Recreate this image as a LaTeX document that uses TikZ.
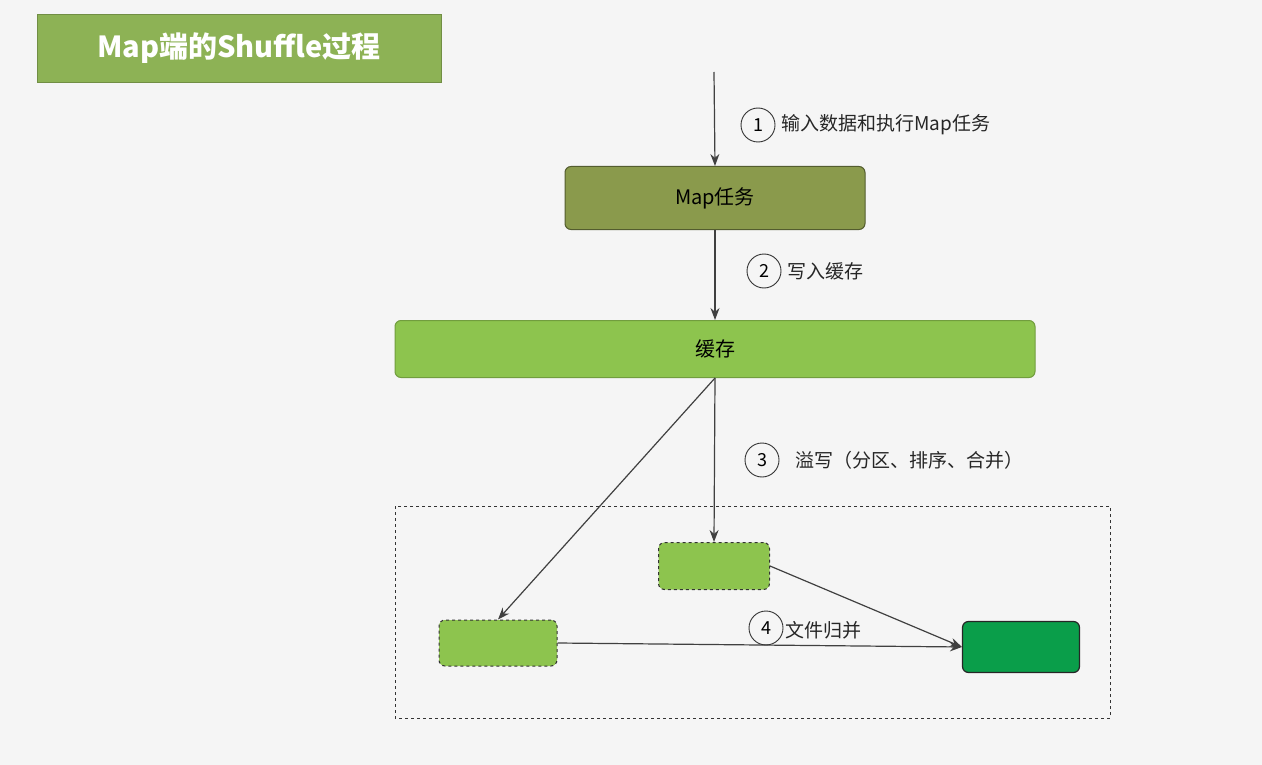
\documentclass[tikz,border=0pt]{standalone}
\usepackage{fontspec}
\setmainfont{Noto Sans CJK SC}
\usetikzlibrary{arrows.meta}
\definecolor{bg}{HTML}{F5F5F5}
\definecolor{titleg}{HTML}{8DB255}
\definecolor{mapc}{HTML}{8A9A4C}
\definecolor{bufc}{HTML}{8DC44E}
\definecolor{outc}{HTML}{0A9E4A}
\tikzset{
  arr/.style={draw=black!75, line width=1.2pt, -{Stealth[length=12pt,width=9pt]}},
  num/.style={circle, draw=black!80, line width=0.9pt, minimum size=34pt, inner sep=0pt, font=\fontsize{18}{18}\selectfont},
  lbl/.style={anchor=west, font=\fontsize{19}{19}\selectfont, text=black!85},
  spill/.style={draw=black!80, dashed, line width=1pt, fill=bufc, rounded corners=6pt},
}
\begin{document}
\begin{tikzpicture}[x=1pt,y=-1pt]
\useasboundingbox (0,0) rectangle (1262,765);
\fill[bg] (0,0) rectangle (1262,765);
\node[fill=titleg, draw=titleg!80!black, minimum width=404pt, minimum height=68pt, text=white, font=\fontsize{29}{29}\selectfont\bfseries] (title) at (239,48) {Map端的Shuffle过程};
\coordinate (top) at (714,72);
\node[draw=mapc!60!black, line width=1pt, fill=mapc, rounded corners=6pt, minimum width=300pt, minimum height=63pt, font=\fontsize{20}{20}\selectfont] (map) at (715,198) {Map任务};
\node[draw=bufc!80!black, line width=1pt, fill=bufc, rounded corners=6pt, minimum width=640pt, minimum height=57pt, font=\fontsize{20}{20}\selectfont] (buf) at (715,349) {缓存};
\draw[black!80, dashed, line width=1pt] (395,506) rectangle (1110,718);
\node[spill, minimum width=111pt, minimum height=47pt] (a) at (714,566) {};
\node[spill, minimum width=118pt, minimum height=46pt] (b) at (498,643) {};
\node[draw=black!85, line width=1.2pt, fill=outc, rounded corners=6pt, minimum width=117pt, minimum height=51pt] (c) at (1021,647) {};
\draw[arr] (top) -- (map.north);
\draw[arr] (map.south) -- (buf.north -| map.south);
\draw[arr] (buf.south -| map.south) -- (a.north);
\draw[arr] (buf.south -| map.south) -- (b.north);
\draw[arr] (a.east) -- (c.west);
\draw[arr] (b.east) -- (c.west);
\node[num] (n1) at (758,125) {1};
\node[lbl] (t1) at (778,125) {输入数据和执行Map任务};
\node[num] (n2) at (764,271) {2};
\node[lbl] (t2) at (784,271) {写入缓存};
\node[num] (n3) at (762,460) {3};
\node[lbl] (t3) at (792,460) {溢写（分区、排序、合并）};
\node[num] (n4) at (766,628) {4};
\node[lbl] (t4) at (782,630) {文件归并};
\end{tikzpicture}
\end{document}
